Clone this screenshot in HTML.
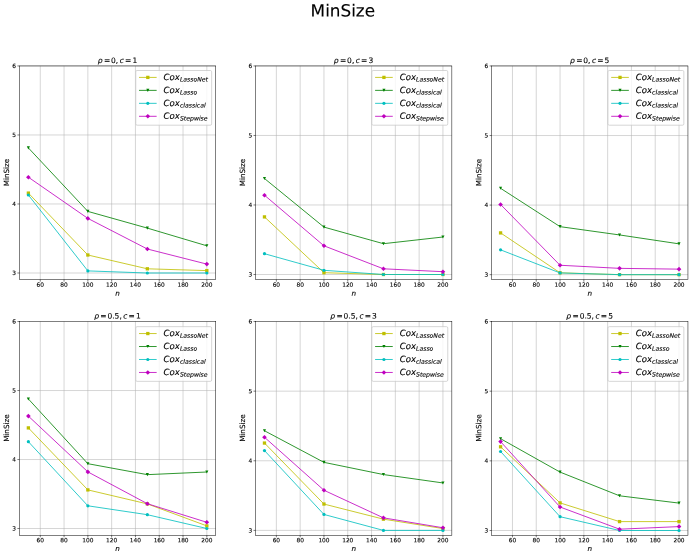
<!DOCTYPE html>
<html lang="en"><head><meta charset="utf-8"><title>MinSize</title>
<style>html,body{margin:0;padding:0;background:#fff}body{width:692px;height:556px;overflow:hidden}svg{display:block}text{font-family:"DejaVu Sans","Liberation Sans",sans-serif;fill:#000;stroke:#000;stroke-width:0.12px}.tk{font-size:5.85px}.tt{font-size:7.5px;word-spacing:-1.2px}.lb{font-size:7.2px}.lg{font-size:8.6px;font-style:italic}.sb{font-size:6.15px}.i{font-style:italic}.sp{fill:none;stroke:#000;stroke-width:0.5}.gr{stroke:#b0b0b0;stroke-width:0.52;fill:none}.tm{stroke:#000;stroke-width:0.52}.ln{fill:none;stroke-width:0.82;stroke-linejoin:round}</style></head><body>
<svg width="692" height="556" viewBox="0 0 692 556">
<rect width="692" height="556" fill="#fff"/>
<text x="342.85" y="16.55" transform="rotate(0.05 342.85 16.55)" text-anchor="middle" style="font-size:16.85px">MinSize</text>
<g>
<path class="gr" d="M40.27 65.95V279.60M64.06 65.95V279.60M87.86 65.95V279.60M111.65 65.95V279.60M135.45 65.95V279.60M159.24 65.95V279.60M183.03 65.95V279.60M206.83 65.95V279.60M19.45 273.00H215.75M19.45 203.98H215.75M19.45 134.97H215.75M19.45 65.95H215.75"/>
<polyline class="ln" stroke="#bfbf00" points="28.37,193.10 87.86,255.00 147.34,268.80 206.83,270.60"/>
<rect x="26.72" y="191.45" width="3.30" height="3.30" fill="#bfbf00"/>
<rect x="86.21" y="253.35" width="3.30" height="3.30" fill="#bfbf00"/>
<rect x="145.69" y="267.15" width="3.30" height="3.30" fill="#bfbf00"/>
<rect x="205.18" y="268.95" width="3.30" height="3.30" fill="#bfbf00"/>
<polyline class="ln" stroke="#008000" points="28.37,147.90 87.86,211.40 147.34,228.10 206.83,245.80"/>
<path d="M26.82 146.35H29.92L28.37 149.45Z" fill="#008000"/>
<path d="M86.31 209.85H89.41L87.86 212.95Z" fill="#008000"/>
<path d="M145.79 226.55H148.89L147.34 229.65Z" fill="#008000"/>
<path d="M205.28 244.25H208.38L206.83 247.35Z" fill="#008000"/>
<polyline class="ln" stroke="#00bfbf" points="28.37,195.00 87.86,270.90 147.34,273.00 206.83,273.00"/>
<circle cx="28.37" cy="195.00" r="1.60" fill="#00bfbf"/>
<circle cx="87.86" cy="270.90" r="1.60" fill="#00bfbf"/>
<circle cx="147.34" cy="273.00" r="1.60" fill="#00bfbf"/>
<circle cx="206.83" cy="273.00" r="1.60" fill="#00bfbf"/>
<polyline class="ln" stroke="#bf00bf" points="28.37,177.20 87.86,218.40 147.34,249.00 206.83,264.10"/>
<path d="M26.07 177.20L28.37 174.90L30.67 177.20L28.37 179.50Z" fill="#bf00bf"/>
<path d="M85.56 218.40L87.86 216.10L90.16 218.40L87.86 220.70Z" fill="#bf00bf"/>
<path d="M145.04 249.00L147.34 246.70L149.64 249.00L147.34 251.30Z" fill="#bf00bf"/>
<path d="M204.53 264.10L206.83 261.80L209.13 264.10L206.83 266.40Z" fill="#bf00bf"/>
<rect class="sp" x="19.45" y="65.95" width="196.30" height="213.65"/>
<path class="tm" d="M40.27 279.60v2.05M64.06 279.60v2.05M87.86 279.60v2.05M111.65 279.60v2.05M135.45 279.60v2.05M159.24 279.60v2.05M183.03 279.60v2.05M206.83 279.60v2.05M19.45 273.00h-2.05M19.45 203.98h-2.05M19.45 134.97h-2.05M19.45 65.95h-2.05"/>
<text class="tk" x="40.27" y="286.70" transform="rotate(0.05 40.27 286.70)" text-anchor="middle">60</text>
<text class="tk" x="64.06" y="286.70" transform="rotate(0.05 64.06 286.70)" text-anchor="middle">80</text>
<text class="tk" x="87.86" y="286.70" transform="rotate(0.05 87.86 286.70)" text-anchor="middle">100</text>
<text class="tk" x="111.65" y="286.70" transform="rotate(0.05 111.65 286.70)" text-anchor="middle">120</text>
<text class="tk" x="135.45" y="286.70" transform="rotate(0.05 135.45 286.70)" text-anchor="middle">140</text>
<text class="tk" x="159.24" y="286.70" transform="rotate(0.05 159.24 286.70)" text-anchor="middle">160</text>
<text class="tk" x="183.03" y="286.70" transform="rotate(0.05 183.03 286.70)" text-anchor="middle">180</text>
<text class="tk" x="206.83" y="286.70" transform="rotate(0.05 206.83 286.70)" text-anchor="middle">200</text>
<text class="tk" x="16.05" y="275.00" transform="rotate(0.05 16.05 275.00)" text-anchor="end">3</text>
<text class="tk" x="16.05" y="205.98" transform="rotate(0.05 16.05 205.98)" text-anchor="end">4</text>
<text class="tk" x="16.05" y="136.97" transform="rotate(0.05 16.05 136.97)" text-anchor="end">5</text>
<text class="tk" x="16.05" y="67.95" transform="rotate(0.05 16.05 67.95)" text-anchor="end">6</text>
<text class="lb i" x="117.65" y="295.75" transform="rotate(0.05 117.65 295.75)" text-anchor="middle">n</text>
<text class="lb" transform="translate(9.00 172.47) rotate(-89.95)" text-anchor="middle">MinSize</text>
<text class="tt" x="117.45" y="62.95" transform="rotate(0.05 117.45 62.95)" text-anchor="middle" xml:space="preserve"><tspan class="i">ρ</tspan><tspan dx="0.3"> =</tspan><tspan dx="-0.4"> 0,</tspan><tspan class="i" dx="0.35"> c</tspan> =<tspan dx="-0.1"> 1</tspan></text>
<rect x="135.75" y="70.50" width="75.9" height="54.7" rx="1.3" fill="#fff" fill-opacity="0.8" stroke="#c4c4c4" stroke-width="0.7"/>
<path class="ln" stroke="#bfbf00" d="M139.00 77.40H156.65"/>
<rect x="146.17" y="75.75" width="3.30" height="3.30" fill="#bfbf00"/>
<text class="lg" x="163.55" y="79.95" transform="rotate(0.05 163.55 79.95)">Cox<tspan class="sb" dy="1.6">LassoNet</tspan></text>
<path class="ln" stroke="#008000" d="M139.00 90.37H156.65"/>
<path d="M146.27 88.82H149.38L147.82 91.92Z" fill="#008000"/>
<text class="lg" x="163.55" y="92.92" transform="rotate(0.05 163.55 92.92)">Cox<tspan class="sb" dy="1.6">Lasso</tspan></text>
<path class="ln" stroke="#00bfbf" d="M139.00 103.34H156.65"/>
<circle cx="147.82" cy="103.34" r="1.60" fill="#00bfbf"/>
<text class="lg" x="163.55" y="105.89" transform="rotate(0.05 163.55 105.89)">Cox<tspan class="sb" dy="1.6">classical</tspan></text>
<path class="ln" stroke="#bf00bf" d="M139.00 116.31H156.65"/>
<path d="M145.52 116.31L147.82 114.01L150.12 116.31L147.82 118.61Z" fill="#bf00bf"/>
<text class="lg" x="163.55" y="118.86" transform="rotate(0.05 163.55 118.86)">Cox<tspan class="sb" dy="1.6">Stepwise</tspan></text>
</g>
<g>
<path class="gr" d="M276.37 65.95V279.60M300.16 65.95V279.60M323.96 65.95V279.60M347.75 65.95V279.60M371.55 65.95V279.60M395.34 65.95V279.60M419.13 65.95V279.60M442.93 65.95V279.60M255.55 274.50H451.85M255.55 204.98H451.85M255.55 135.47H451.85M255.55 65.95H451.85"/>
<polyline class="ln" stroke="#bfbf00" points="264.47,216.90 323.96,272.70 383.44,274.50 442.93,274.50"/>
<rect x="262.82" y="215.25" width="3.30" height="3.30" fill="#bfbf00"/>
<rect x="322.31" y="271.05" width="3.30" height="3.30" fill="#bfbf00"/>
<rect x="381.79" y="272.85" width="3.30" height="3.30" fill="#bfbf00"/>
<rect x="441.28" y="272.85" width="3.30" height="3.30" fill="#bfbf00"/>
<polyline class="ln" stroke="#008000" points="264.47,178.50 323.96,227.10 383.44,243.70 442.93,237.00"/>
<path d="M262.92 176.95H266.02L264.47 180.05Z" fill="#008000"/>
<path d="M322.41 225.55H325.51L323.96 228.65Z" fill="#008000"/>
<path d="M381.89 242.15H384.99L383.44 245.25Z" fill="#008000"/>
<path d="M441.38 235.45H444.48L442.93 238.55Z" fill="#008000"/>
<polyline class="ln" stroke="#00bfbf" points="264.47,253.70 323.96,270.30 383.44,274.50 442.93,274.50"/>
<circle cx="264.47" cy="253.70" r="1.60" fill="#00bfbf"/>
<circle cx="323.96" cy="270.30" r="1.60" fill="#00bfbf"/>
<circle cx="383.44" cy="274.50" r="1.60" fill="#00bfbf"/>
<circle cx="442.93" cy="274.50" r="1.60" fill="#00bfbf"/>
<polyline class="ln" stroke="#bf00bf" points="264.47,195.20 323.96,245.80 383.44,268.80 442.93,271.70"/>
<path d="M262.17 195.20L264.47 192.90L266.77 195.20L264.47 197.50Z" fill="#bf00bf"/>
<path d="M321.66 245.80L323.96 243.50L326.26 245.80L323.96 248.10Z" fill="#bf00bf"/>
<path d="M381.14 268.80L383.44 266.50L385.74 268.80L383.44 271.10Z" fill="#bf00bf"/>
<path d="M440.63 271.70L442.93 269.40L445.23 271.70L442.93 274.00Z" fill="#bf00bf"/>
<rect class="sp" x="255.55" y="65.95" width="196.30" height="213.65"/>
<path class="tm" d="M276.37 279.60v2.05M300.16 279.60v2.05M323.96 279.60v2.05M347.75 279.60v2.05M371.55 279.60v2.05M395.34 279.60v2.05M419.13 279.60v2.05M442.93 279.60v2.05M255.55 274.50h-2.05M255.55 204.98h-2.05M255.55 135.47h-2.05M255.55 65.95h-2.05"/>
<text class="tk" x="276.37" y="286.70" transform="rotate(0.05 276.37 286.70)" text-anchor="middle">60</text>
<text class="tk" x="300.16" y="286.70" transform="rotate(0.05 300.16 286.70)" text-anchor="middle">80</text>
<text class="tk" x="323.96" y="286.70" transform="rotate(0.05 323.96 286.70)" text-anchor="middle">100</text>
<text class="tk" x="347.75" y="286.70" transform="rotate(0.05 347.75 286.70)" text-anchor="middle">120</text>
<text class="tk" x="371.55" y="286.70" transform="rotate(0.05 371.55 286.70)" text-anchor="middle">140</text>
<text class="tk" x="395.34" y="286.70" transform="rotate(0.05 395.34 286.70)" text-anchor="middle">160</text>
<text class="tk" x="419.13" y="286.70" transform="rotate(0.05 419.13 286.70)" text-anchor="middle">180</text>
<text class="tk" x="442.93" y="286.70" transform="rotate(0.05 442.93 286.70)" text-anchor="middle">200</text>
<text class="tk" x="252.15" y="276.50" transform="rotate(0.05 252.15 276.50)" text-anchor="end">3</text>
<text class="tk" x="252.15" y="206.98" transform="rotate(0.05 252.15 206.98)" text-anchor="end">4</text>
<text class="tk" x="252.15" y="137.47" transform="rotate(0.05 252.15 137.47)" text-anchor="end">5</text>
<text class="tk" x="252.15" y="67.95" transform="rotate(0.05 252.15 67.95)" text-anchor="end">6</text>
<text class="lb i" x="353.75" y="295.75" transform="rotate(0.05 353.75 295.75)" text-anchor="middle">n</text>
<text class="lb" transform="translate(245.10 172.47) rotate(-89.95)" text-anchor="middle">MinSize</text>
<text class="tt" x="353.55" y="62.95" transform="rotate(0.05 353.55 62.95)" text-anchor="middle" xml:space="preserve"><tspan class="i">ρ</tspan><tspan dx="0.3"> =</tspan><tspan dx="-0.4"> 0,</tspan><tspan class="i" dx="0.35"> c</tspan> =<tspan dx="-0.1"> 3</tspan></text>
<rect x="371.85" y="70.50" width="75.9" height="54.7" rx="1.3" fill="#fff" fill-opacity="0.8" stroke="#c4c4c4" stroke-width="0.7"/>
<path class="ln" stroke="#bfbf00" d="M375.10 77.40H392.75"/>
<rect x="382.28" y="75.75" width="3.30" height="3.30" fill="#bfbf00"/>
<text class="lg" x="399.65" y="79.95" transform="rotate(0.05 399.65 79.95)">Cox<tspan class="sb" dy="1.6">LassoNet</tspan></text>
<path class="ln" stroke="#008000" d="M375.10 90.37H392.75"/>
<path d="M382.38 88.82H385.48L383.93 91.92Z" fill="#008000"/>
<text class="lg" x="399.65" y="92.92" transform="rotate(0.05 399.65 92.92)">Cox<tspan class="sb" dy="1.6">classical</tspan></text>
<path class="ln" stroke="#00bfbf" d="M375.10 103.34H392.75"/>
<circle cx="383.93" cy="103.34" r="1.60" fill="#00bfbf"/>
<text class="lg" x="399.65" y="105.89" transform="rotate(0.05 399.65 105.89)">Cox<tspan class="sb" dy="1.6">classical</tspan></text>
<path class="ln" stroke="#bf00bf" d="M375.10 116.31H392.75"/>
<path d="M381.62 116.31L383.93 114.01L386.23 116.31L383.93 118.61Z" fill="#bf00bf"/>
<text class="lg" x="399.65" y="118.86" transform="rotate(0.05 399.65 118.86)">Cox<tspan class="sb" dy="1.6">Stepwise</tspan></text>
</g>
<g>
<path class="gr" d="M512.47 65.95V279.60M536.26 65.95V279.60M560.06 65.95V279.60M583.85 65.95V279.60M607.65 65.95V279.60M631.44 65.95V279.60M655.23 65.95V279.60M679.03 65.95V279.60M491.65 274.65H687.95M491.65 205.08H687.95M491.65 135.52H687.95M491.65 65.95H687.95"/>
<polyline class="ln" stroke="#bfbf00" points="500.57,232.90 560.06,272.80 619.54,274.65 679.03,274.65"/>
<rect x="498.92" y="231.25" width="3.30" height="3.30" fill="#bfbf00"/>
<rect x="558.41" y="271.15" width="3.30" height="3.30" fill="#bfbf00"/>
<rect x="617.89" y="273.00" width="3.30" height="3.30" fill="#bfbf00"/>
<rect x="677.38" y="273.00" width="3.30" height="3.30" fill="#bfbf00"/>
<polyline class="ln" stroke="#008000" points="500.57,188.30 560.06,226.65 619.54,234.95 679.03,243.85"/>
<path d="M499.02 186.75H502.12L500.57 189.85Z" fill="#008000"/>
<path d="M558.51 225.10H561.61L560.06 228.20Z" fill="#008000"/>
<path d="M617.99 233.40H621.09L619.54 236.50Z" fill="#008000"/>
<path d="M677.48 242.30H680.58L679.03 245.40Z" fill="#008000"/>
<polyline class="ln" stroke="#00bfbf" points="500.57,249.85 560.06,272.95 619.54,274.65 679.03,274.65"/>
<circle cx="500.57" cy="249.85" r="1.60" fill="#00bfbf"/>
<circle cx="560.06" cy="272.95" r="1.60" fill="#00bfbf"/>
<circle cx="619.54" cy="274.65" r="1.60" fill="#00bfbf"/>
<circle cx="679.03" cy="274.65" r="1.60" fill="#00bfbf"/>
<polyline class="ln" stroke="#bf00bf" points="500.57,204.45 560.06,265.25 619.54,268.35 679.03,269.15"/>
<path d="M498.27 204.45L500.57 202.15L502.87 204.45L500.57 206.75Z" fill="#bf00bf"/>
<path d="M557.76 265.25L560.06 262.95L562.36 265.25L560.06 267.55Z" fill="#bf00bf"/>
<path d="M617.24 268.35L619.54 266.05L621.84 268.35L619.54 270.65Z" fill="#bf00bf"/>
<path d="M676.73 269.15L679.03 266.85L681.33 269.15L679.03 271.45Z" fill="#bf00bf"/>
<rect class="sp" x="491.65" y="65.95" width="196.30" height="213.65"/>
<path class="tm" d="M512.47 279.60v2.05M536.26 279.60v2.05M560.06 279.60v2.05M583.85 279.60v2.05M607.65 279.60v2.05M631.44 279.60v2.05M655.23 279.60v2.05M679.03 279.60v2.05M491.65 274.65h-2.05M491.65 205.08h-2.05M491.65 135.52h-2.05M491.65 65.95h-2.05"/>
<text class="tk" x="512.47" y="286.70" transform="rotate(0.05 512.47 286.70)" text-anchor="middle">60</text>
<text class="tk" x="536.26" y="286.70" transform="rotate(0.05 536.26 286.70)" text-anchor="middle">80</text>
<text class="tk" x="560.06" y="286.70" transform="rotate(0.05 560.06 286.70)" text-anchor="middle">100</text>
<text class="tk" x="583.85" y="286.70" transform="rotate(0.05 583.85 286.70)" text-anchor="middle">120</text>
<text class="tk" x="607.65" y="286.70" transform="rotate(0.05 607.65 286.70)" text-anchor="middle">140</text>
<text class="tk" x="631.44" y="286.70" transform="rotate(0.05 631.44 286.70)" text-anchor="middle">160</text>
<text class="tk" x="655.23" y="286.70" transform="rotate(0.05 655.23 286.70)" text-anchor="middle">180</text>
<text class="tk" x="679.03" y="286.70" transform="rotate(0.05 679.03 286.70)" text-anchor="middle">200</text>
<text class="tk" x="488.25" y="276.65" transform="rotate(0.05 488.25 276.65)" text-anchor="end">3</text>
<text class="tk" x="488.25" y="207.08" transform="rotate(0.05 488.25 207.08)" text-anchor="end">4</text>
<text class="tk" x="488.25" y="137.52" transform="rotate(0.05 488.25 137.52)" text-anchor="end">5</text>
<text class="tk" x="488.25" y="67.95" transform="rotate(0.05 488.25 67.95)" text-anchor="end">6</text>
<text class="lb i" x="589.85" y="295.75" transform="rotate(0.05 589.85 295.75)" text-anchor="middle">n</text>
<text class="lb" transform="translate(481.20 172.47) rotate(-89.95)" text-anchor="middle">MinSize</text>
<text class="tt" x="589.65" y="62.95" transform="rotate(0.05 589.65 62.95)" text-anchor="middle" xml:space="preserve"><tspan class="i">ρ</tspan><tspan dx="0.3"> =</tspan><tspan dx="-0.4"> 0,</tspan><tspan class="i" dx="0.35"> c</tspan> =<tspan dx="-0.1"> 5</tspan></text>
<rect x="607.95" y="70.50" width="75.9" height="54.7" rx="1.3" fill="#fff" fill-opacity="0.8" stroke="#c4c4c4" stroke-width="0.7"/>
<path class="ln" stroke="#bfbf00" d="M611.20 77.40H628.85"/>
<rect x="618.37" y="75.75" width="3.30" height="3.30" fill="#bfbf00"/>
<text class="lg" x="635.75" y="79.95" transform="rotate(0.05 635.75 79.95)">Cox<tspan class="sb" dy="1.6">LassoNet</tspan></text>
<path class="ln" stroke="#008000" d="M611.20 90.37H628.85"/>
<path d="M618.47 88.82H621.57L620.02 91.92Z" fill="#008000"/>
<text class="lg" x="635.75" y="92.92" transform="rotate(0.05 635.75 92.92)">Cox<tspan class="sb" dy="1.6">classical</tspan></text>
<path class="ln" stroke="#00bfbf" d="M611.20 103.34H628.85"/>
<circle cx="620.02" cy="103.34" r="1.60" fill="#00bfbf"/>
<text class="lg" x="635.75" y="105.89" transform="rotate(0.05 635.75 105.89)">Cox<tspan class="sb" dy="1.6">classical</tspan></text>
<path class="ln" stroke="#bf00bf" d="M611.20 116.31H628.85"/>
<path d="M617.72 116.31L620.02 114.01L622.32 116.31L620.02 118.61Z" fill="#bf00bf"/>
<text class="lg" x="635.75" y="118.86" transform="rotate(0.05 635.75 118.86)">Cox<tspan class="sb" dy="1.6">Stepwise</tspan></text>
</g>
<g>
<path class="gr" d="M40.27 321.55V535.25M64.06 321.55V535.25M87.86 321.55V535.25M111.65 321.55V535.25M135.45 321.55V535.25M159.24 321.55V535.25M183.03 321.55V535.25M206.83 321.55V535.25M19.45 528.50H215.75M19.45 459.52H215.75M19.45 390.53H215.75"/>
<polyline class="ln" stroke="#bfbf00" points="28.37,427.90 87.86,489.90 147.34,503.90 206.83,525.90"/>
<rect x="26.72" y="426.25" width="3.30" height="3.30" fill="#bfbf00"/>
<rect x="86.21" y="488.25" width="3.30" height="3.30" fill="#bfbf00"/>
<rect x="145.69" y="502.25" width="3.30" height="3.30" fill="#bfbf00"/>
<rect x="205.18" y="524.25" width="3.30" height="3.30" fill="#bfbf00"/>
<polyline class="ln" stroke="#008000" points="28.37,398.95 87.86,463.70 147.34,474.65 206.83,472.00"/>
<path d="M26.82 397.40H29.92L28.37 400.50Z" fill="#008000"/>
<path d="M86.31 462.15H89.41L87.86 465.25Z" fill="#008000"/>
<path d="M145.79 473.10H148.89L147.34 476.20Z" fill="#008000"/>
<path d="M205.28 470.45H208.38L206.83 473.55Z" fill="#008000"/>
<polyline class="ln" stroke="#00bfbf" points="28.37,441.70 87.86,505.80 147.34,514.70 206.83,528.50"/>
<circle cx="28.37" cy="441.70" r="1.60" fill="#00bfbf"/>
<circle cx="87.86" cy="505.80" r="1.60" fill="#00bfbf"/>
<circle cx="147.34" cy="514.70" r="1.60" fill="#00bfbf"/>
<circle cx="206.83" cy="528.50" r="1.60" fill="#00bfbf"/>
<polyline class="ln" stroke="#bf00bf" points="28.37,416.10 87.86,471.90 147.34,503.70 206.83,522.30"/>
<path d="M26.07 416.10L28.37 413.80L30.67 416.10L28.37 418.40Z" fill="#bf00bf"/>
<path d="M85.56 471.90L87.86 469.60L90.16 471.90L87.86 474.20Z" fill="#bf00bf"/>
<path d="M145.04 503.70L147.34 501.40L149.64 503.70L147.34 506.00Z" fill="#bf00bf"/>
<path d="M204.53 522.30L206.83 520.00L209.13 522.30L206.83 524.60Z" fill="#bf00bf"/>
<rect class="sp" x="19.45" y="321.55" width="196.30" height="213.70"/>
<path class="tm" d="M40.27 535.25v2.05M64.06 535.25v2.05M87.86 535.25v2.05M111.65 535.25v2.05M135.45 535.25v2.05M159.24 535.25v2.05M183.03 535.25v2.05M206.83 535.25v2.05M19.45 528.50h-2.05M19.45 459.52h-2.05M19.45 390.53h-2.05M19.45 321.55h-2.05"/>
<text class="tk" x="40.27" y="542.35" transform="rotate(0.05 40.27 542.35)" text-anchor="middle">60</text>
<text class="tk" x="64.06" y="542.35" transform="rotate(0.05 64.06 542.35)" text-anchor="middle">80</text>
<text class="tk" x="87.86" y="542.35" transform="rotate(0.05 87.86 542.35)" text-anchor="middle">100</text>
<text class="tk" x="111.65" y="542.35" transform="rotate(0.05 111.65 542.35)" text-anchor="middle">120</text>
<text class="tk" x="135.45" y="542.35" transform="rotate(0.05 135.45 542.35)" text-anchor="middle">140</text>
<text class="tk" x="159.24" y="542.35" transform="rotate(0.05 159.24 542.35)" text-anchor="middle">160</text>
<text class="tk" x="183.03" y="542.35" transform="rotate(0.05 183.03 542.35)" text-anchor="middle">180</text>
<text class="tk" x="206.83" y="542.35" transform="rotate(0.05 206.83 542.35)" text-anchor="middle">200</text>
<text class="tk" x="16.05" y="530.50" transform="rotate(0.05 16.05 530.50)" text-anchor="end">3</text>
<text class="tk" x="16.05" y="461.52" transform="rotate(0.05 16.05 461.52)" text-anchor="end">4</text>
<text class="tk" x="16.05" y="392.53" transform="rotate(0.05 16.05 392.53)" text-anchor="end">5</text>
<text class="tk" x="16.05" y="323.55" transform="rotate(0.05 16.05 323.55)" text-anchor="end">6</text>
<text class="lb i" x="117.65" y="550.95" transform="rotate(0.05 117.65 550.95)" text-anchor="middle">n</text>
<text class="lb" transform="translate(9.00 428.10) rotate(-89.95)" text-anchor="middle">MinSize</text>
<text class="tt" x="117.45" y="318.55" transform="rotate(0.05 117.45 318.55)" text-anchor="middle" xml:space="preserve"><tspan class="i">ρ</tspan><tspan dx="0.3"> =</tspan><tspan dx="-0.4"> 0.5,</tspan><tspan class="i" dx="0.35"> c</tspan> =<tspan dx="-0.1"> 1</tspan></text>
<rect x="135.75" y="326.65" width="75.9" height="54.7" rx="1.3" fill="#fff" fill-opacity="0.8" stroke="#c4c4c4" stroke-width="0.7"/>
<path class="ln" stroke="#bfbf00" d="M139.00 333.55H156.65"/>
<rect x="146.17" y="331.90" width="3.30" height="3.30" fill="#bfbf00"/>
<text class="lg" x="163.55" y="336.10" transform="rotate(0.05 163.55 336.10)">Cox<tspan class="sb" dy="1.6">LassoNet</tspan></text>
<path class="ln" stroke="#008000" d="M139.00 346.52H156.65"/>
<path d="M146.27 344.97H149.38L147.82 348.07Z" fill="#008000"/>
<text class="lg" x="163.55" y="349.07" transform="rotate(0.05 163.55 349.07)">Cox<tspan class="sb" dy="1.6">Lasso</tspan></text>
<path class="ln" stroke="#00bfbf" d="M139.00 359.49H156.65"/>
<circle cx="147.82" cy="359.49" r="1.60" fill="#00bfbf"/>
<text class="lg" x="163.55" y="362.04" transform="rotate(0.05 163.55 362.04)">Cox<tspan class="sb" dy="1.6">classical</tspan></text>
<path class="ln" stroke="#bf00bf" d="M139.00 372.46H156.65"/>
<path d="M145.52 372.46L147.82 370.16L150.12 372.46L147.82 374.76Z" fill="#bf00bf"/>
<text class="lg" x="163.55" y="375.01" transform="rotate(0.05 163.55 375.01)">Cox<tspan class="sb" dy="1.6">Stepwise</tspan></text>
</g>
<g>
<path class="gr" d="M276.37 321.55V535.25M300.16 321.55V535.25M323.96 321.55V535.25M347.75 321.55V535.25M371.55 321.55V535.25M395.34 321.55V535.25M419.13 321.55V535.25M442.93 321.55V535.25M255.55 530.40H451.85M255.55 460.78H451.85M255.55 391.17H451.85"/>
<polyline class="ln" stroke="#bfbf00" points="264.47,443.05 323.96,504.05 383.44,519.15 442.93,528.55"/>
<rect x="262.82" y="441.40" width="3.30" height="3.30" fill="#bfbf00"/>
<rect x="322.31" y="502.40" width="3.30" height="3.30" fill="#bfbf00"/>
<rect x="381.79" y="517.50" width="3.30" height="3.30" fill="#bfbf00"/>
<rect x="441.28" y="526.90" width="3.30" height="3.30" fill="#bfbf00"/>
<polyline class="ln" stroke="#008000" points="264.47,430.75 323.96,462.35 383.44,474.55 442.93,482.95"/>
<path d="M262.92 429.20H266.02L264.47 432.30Z" fill="#008000"/>
<path d="M322.41 460.80H325.51L323.96 463.90Z" fill="#008000"/>
<path d="M381.89 473.00H384.99L383.44 476.10Z" fill="#008000"/>
<path d="M441.38 481.40H444.48L442.93 484.50Z" fill="#008000"/>
<polyline class="ln" stroke="#00bfbf" points="264.47,450.55 323.96,514.45 383.44,530.40 442.93,530.40"/>
<circle cx="264.47" cy="450.55" r="1.60" fill="#00bfbf"/>
<circle cx="323.96" cy="514.45" r="1.60" fill="#00bfbf"/>
<circle cx="383.44" cy="530.40" r="1.60" fill="#00bfbf"/>
<circle cx="442.93" cy="530.40" r="1.60" fill="#00bfbf"/>
<polyline class="ln" stroke="#bf00bf" points="264.47,437.25 323.96,490.25 383.44,517.85 442.93,527.75"/>
<path d="M262.17 437.25L264.47 434.95L266.77 437.25L264.47 439.55Z" fill="#bf00bf"/>
<path d="M321.66 490.25L323.96 487.95L326.26 490.25L323.96 492.55Z" fill="#bf00bf"/>
<path d="M381.14 517.85L383.44 515.55L385.74 517.85L383.44 520.15Z" fill="#bf00bf"/>
<path d="M440.63 527.75L442.93 525.45L445.23 527.75L442.93 530.05Z" fill="#bf00bf"/>
<rect class="sp" x="255.55" y="321.55" width="196.30" height="213.70"/>
<path class="tm" d="M276.37 535.25v2.05M300.16 535.25v2.05M323.96 535.25v2.05M347.75 535.25v2.05M371.55 535.25v2.05M395.34 535.25v2.05M419.13 535.25v2.05M442.93 535.25v2.05M255.55 530.40h-2.05M255.55 460.78h-2.05M255.55 391.17h-2.05M255.55 321.55h-2.05"/>
<text class="tk" x="276.37" y="542.35" transform="rotate(0.05 276.37 542.35)" text-anchor="middle">60</text>
<text class="tk" x="300.16" y="542.35" transform="rotate(0.05 300.16 542.35)" text-anchor="middle">80</text>
<text class="tk" x="323.96" y="542.35" transform="rotate(0.05 323.96 542.35)" text-anchor="middle">100</text>
<text class="tk" x="347.75" y="542.35" transform="rotate(0.05 347.75 542.35)" text-anchor="middle">120</text>
<text class="tk" x="371.55" y="542.35" transform="rotate(0.05 371.55 542.35)" text-anchor="middle">140</text>
<text class="tk" x="395.34" y="542.35" transform="rotate(0.05 395.34 542.35)" text-anchor="middle">160</text>
<text class="tk" x="419.13" y="542.35" transform="rotate(0.05 419.13 542.35)" text-anchor="middle">180</text>
<text class="tk" x="442.93" y="542.35" transform="rotate(0.05 442.93 542.35)" text-anchor="middle">200</text>
<text class="tk" x="252.15" y="532.40" transform="rotate(0.05 252.15 532.40)" text-anchor="end">3</text>
<text class="tk" x="252.15" y="462.78" transform="rotate(0.05 252.15 462.78)" text-anchor="end">4</text>
<text class="tk" x="252.15" y="393.17" transform="rotate(0.05 252.15 393.17)" text-anchor="end">5</text>
<text class="tk" x="252.15" y="323.55" transform="rotate(0.05 252.15 323.55)" text-anchor="end">6</text>
<text class="lb i" x="353.75" y="550.95" transform="rotate(0.05 353.75 550.95)" text-anchor="middle">n</text>
<text class="lb" transform="translate(245.10 428.10) rotate(-89.95)" text-anchor="middle">MinSize</text>
<text class="tt" x="353.55" y="318.55" transform="rotate(0.05 353.55 318.55)" text-anchor="middle" xml:space="preserve"><tspan class="i">ρ</tspan><tspan dx="0.3"> =</tspan><tspan dx="-0.4"> 0.5,</tspan><tspan class="i" dx="0.35"> c</tspan> =<tspan dx="-0.1"> 3</tspan></text>
<rect x="371.85" y="326.65" width="75.9" height="54.7" rx="1.3" fill="#fff" fill-opacity="0.8" stroke="#c4c4c4" stroke-width="0.7"/>
<path class="ln" stroke="#bfbf00" d="M375.10 333.55H392.75"/>
<rect x="382.28" y="331.90" width="3.30" height="3.30" fill="#bfbf00"/>
<text class="lg" x="399.65" y="336.10" transform="rotate(0.05 399.65 336.10)">Cox<tspan class="sb" dy="1.6">LassoNet</tspan></text>
<path class="ln" stroke="#008000" d="M375.10 346.52H392.75"/>
<path d="M382.38 344.97H385.48L383.93 348.07Z" fill="#008000"/>
<text class="lg" x="399.65" y="349.07" transform="rotate(0.05 399.65 349.07)">Cox<tspan class="sb" dy="1.6">Lasso</tspan></text>
<path class="ln" stroke="#00bfbf" d="M375.10 359.49H392.75"/>
<circle cx="383.93" cy="359.49" r="1.60" fill="#00bfbf"/>
<text class="lg" x="399.65" y="362.04" transform="rotate(0.05 399.65 362.04)">Cox<tspan class="sb" dy="1.6">classical</tspan></text>
<path class="ln" stroke="#bf00bf" d="M375.10 372.46H392.75"/>
<path d="M381.62 372.46L383.93 370.16L386.23 372.46L383.93 374.76Z" fill="#bf00bf"/>
<text class="lg" x="399.65" y="375.01" transform="rotate(0.05 399.65 375.01)">Cox<tspan class="sb" dy="1.6">Stepwise</tspan></text>
</g>
<g>
<path class="gr" d="M512.47 321.55V535.25M536.26 321.55V535.25M560.06 321.55V535.25M583.85 321.55V535.25M607.65 321.55V535.25M631.44 321.55V535.25M655.23 321.55V535.25M679.03 321.55V535.25M491.65 530.50H687.95M491.65 460.85H687.95M491.65 391.20H687.95"/>
<polyline class="ln" stroke="#bfbf00" points="500.57,446.80 560.06,502.90 619.54,521.60 679.03,521.60"/>
<rect x="498.92" y="445.15" width="3.30" height="3.30" fill="#bfbf00"/>
<rect x="558.41" y="501.25" width="3.30" height="3.30" fill="#bfbf00"/>
<rect x="617.89" y="519.95" width="3.30" height="3.30" fill="#bfbf00"/>
<rect x="677.38" y="519.95" width="3.30" height="3.30" fill="#bfbf00"/>
<polyline class="ln" stroke="#008000" points="500.57,438.70 560.06,472.10 619.54,495.80 679.03,503.10"/>
<path d="M499.02 437.15H502.12L500.57 440.25Z" fill="#008000"/>
<path d="M558.51 470.55H561.61L560.06 473.65Z" fill="#008000"/>
<path d="M617.99 494.25H621.09L619.54 497.35Z" fill="#008000"/>
<path d="M677.48 501.55H680.58L679.03 504.65Z" fill="#008000"/>
<polyline class="ln" stroke="#00bfbf" points="500.57,451.50 560.06,516.70 619.54,530.50 679.03,530.50"/>
<circle cx="500.57" cy="451.50" r="1.60" fill="#00bfbf"/>
<circle cx="560.06" cy="516.70" r="1.60" fill="#00bfbf"/>
<circle cx="619.54" cy="530.50" r="1.60" fill="#00bfbf"/>
<circle cx="679.03" cy="530.50" r="1.60" fill="#00bfbf"/>
<polyline class="ln" stroke="#bf00bf" points="500.57,441.60 560.06,507.00 619.54,529.20 679.03,526.60"/>
<path d="M498.27 441.60L500.57 439.30L502.87 441.60L500.57 443.90Z" fill="#bf00bf"/>
<path d="M557.76 507.00L560.06 504.70L562.36 507.00L560.06 509.30Z" fill="#bf00bf"/>
<path d="M617.24 529.20L619.54 526.90L621.84 529.20L619.54 531.50Z" fill="#bf00bf"/>
<path d="M676.73 526.60L679.03 524.30L681.33 526.60L679.03 528.90Z" fill="#bf00bf"/>
<rect class="sp" x="491.65" y="321.55" width="196.30" height="213.70"/>
<path class="tm" d="M512.47 535.25v2.05M536.26 535.25v2.05M560.06 535.25v2.05M583.85 535.25v2.05M607.65 535.25v2.05M631.44 535.25v2.05M655.23 535.25v2.05M679.03 535.25v2.05M491.65 530.50h-2.05M491.65 460.85h-2.05M491.65 391.20h-2.05M491.65 321.55h-2.05"/>
<text class="tk" x="512.47" y="542.35" transform="rotate(0.05 512.47 542.35)" text-anchor="middle">60</text>
<text class="tk" x="536.26" y="542.35" transform="rotate(0.05 536.26 542.35)" text-anchor="middle">80</text>
<text class="tk" x="560.06" y="542.35" transform="rotate(0.05 560.06 542.35)" text-anchor="middle">100</text>
<text class="tk" x="583.85" y="542.35" transform="rotate(0.05 583.85 542.35)" text-anchor="middle">120</text>
<text class="tk" x="607.65" y="542.35" transform="rotate(0.05 607.65 542.35)" text-anchor="middle">140</text>
<text class="tk" x="631.44" y="542.35" transform="rotate(0.05 631.44 542.35)" text-anchor="middle">160</text>
<text class="tk" x="655.23" y="542.35" transform="rotate(0.05 655.23 542.35)" text-anchor="middle">180</text>
<text class="tk" x="679.03" y="542.35" transform="rotate(0.05 679.03 542.35)" text-anchor="middle">200</text>
<text class="tk" x="488.25" y="532.50" transform="rotate(0.05 488.25 532.50)" text-anchor="end">3</text>
<text class="tk" x="488.25" y="462.85" transform="rotate(0.05 488.25 462.85)" text-anchor="end">4</text>
<text class="tk" x="488.25" y="393.20" transform="rotate(0.05 488.25 393.20)" text-anchor="end">5</text>
<text class="tk" x="488.25" y="323.55" transform="rotate(0.05 488.25 323.55)" text-anchor="end">6</text>
<text class="lb i" x="589.85" y="550.95" transform="rotate(0.05 589.85 550.95)" text-anchor="middle">n</text>
<text class="lb" transform="translate(481.20 428.10) rotate(-89.95)" text-anchor="middle">MinSize</text>
<text class="tt" x="589.65" y="318.55" transform="rotate(0.05 589.65 318.55)" text-anchor="middle" xml:space="preserve"><tspan class="i">ρ</tspan><tspan dx="0.3"> =</tspan><tspan dx="-0.4"> 0.5,</tspan><tspan class="i" dx="0.35"> c</tspan> =<tspan dx="-0.1"> 5</tspan></text>
<rect x="607.95" y="326.65" width="75.9" height="54.7" rx="1.3" fill="#fff" fill-opacity="0.8" stroke="#c4c4c4" stroke-width="0.7"/>
<path class="ln" stroke="#bfbf00" d="M611.20 333.55H628.85"/>
<rect x="618.37" y="331.90" width="3.30" height="3.30" fill="#bfbf00"/>
<text class="lg" x="635.75" y="336.10" transform="rotate(0.05 635.75 336.10)">Cox<tspan class="sb" dy="1.6">LassoNet</tspan></text>
<path class="ln" stroke="#008000" d="M611.20 346.52H628.85"/>
<path d="M618.47 344.97H621.57L620.02 348.07Z" fill="#008000"/>
<text class="lg" x="635.75" y="349.07" transform="rotate(0.05 635.75 349.07)">Cox<tspan class="sb" dy="1.6">Lasso</tspan></text>
<path class="ln" stroke="#00bfbf" d="M611.20 359.49H628.85"/>
<circle cx="620.02" cy="359.49" r="1.60" fill="#00bfbf"/>
<text class="lg" x="635.75" y="362.04" transform="rotate(0.05 635.75 362.04)">Cox<tspan class="sb" dy="1.6">classical</tspan></text>
<path class="ln" stroke="#bf00bf" d="M611.20 372.46H628.85"/>
<path d="M617.72 372.46L620.02 370.16L622.32 372.46L620.02 374.76Z" fill="#bf00bf"/>
<text class="lg" x="635.75" y="375.01" transform="rotate(0.05 635.75 375.01)">Cox<tspan class="sb" dy="1.6">Stepwise</tspan></text>
</g>
</svg></body></html>
